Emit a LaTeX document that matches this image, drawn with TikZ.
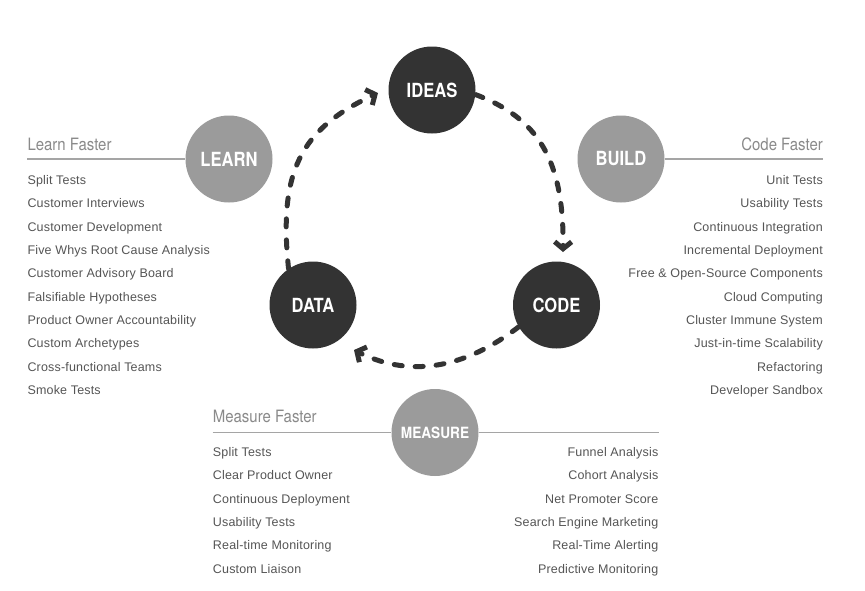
\documentclass[tikz,border=0pt]{standalone}
\usepackage{fontspec}
\setmainfont{Liberation Sans}
\newfontfamily\itemfont[LetterSpace=1.5]{Liberation Sans}
\newfontfamily\headfont[FakeStretch=0.88]{TeX Gyre Heros}
\newfontfamily\circfont[FakeStretch=0.85]{TeX Gyre Heros}
\newfontfamily\circfontm[FakeStretch=0.88]{TeX Gyre Heros}
\usetikzlibrary{arrows.meta}
\definecolor{darkc}{HTML}{333333}
\definecolor{lightc}{HTML}{9B9B9B}
\definecolor{itemc}{HTML}{555555}
\definecolor{headc}{HTML}{8A8A8A}
\definecolor{rulec}{HTML}{A5A5A5}
\tikzset{
  darkball/.style={circle, fill=darkc, minimum size=87pt, inner sep=0pt, text=white,
    font=\circfont\bfseries\fontsize{19.5}{20}\selectfont},
  lightball/.style={circle, fill=lightc, minimum size=87pt, inner sep=0pt, text=white,
    font=\circfont\bfseries\fontsize{19.5}{20}\selectfont},
  flow/.style={draw=darkc, line width=5pt, line cap=round, dash pattern=on 8pt off 13pt,
    -{Straight Barb[length=7pt,width=17pt,line width=5pt]}},
  rulel/.style={draw=rulec, line width=1.8pt},
  itemtxt/.style={inner sep=0pt, text=itemc, font=\itemfont\fontsize{12.5}{14}\selectfont},
  headtxt/.style={inner sep=0pt, text=headc, font=\headfont\fontsize{17}{18}\selectfont},
}
\begin{document}
\begin{tikzpicture}[x=1pt,y=-1pt]
\useasboundingbox (0,0) rectangle (865,590);
\fill[white] (0,0) rectangle (865,590);

% circles
\node[darkball] (ideas) at (432,90) {IDEAS};
\node[darkball] (data) at (313,305) {DATA};
\node[darkball] (code) at (556.5,305) {CODE};
\node[lightball] (learn) at (229,159) {LEARN};
\node[lightball] (build) at (621,159) {BUILD};
\node[lightball, font=\circfontm\bfseries\fontsize{15.5}{16}\selectfont] (measure) at (435,432.5) {MEASURE};

% cycle arrows
\coordinate (tipI) at (378,93);
\coordinate (tipC) at (563,252);
\coordinate (tipD) at (354,350);
\draw[flow] (data.124) .. controls (278.5,173) and (299.5,129.5) .. (tipI);
\draw[flow] (ideas.-6) .. controls (538,118) and (564,160) .. (tipC);
\draw[flow] (code.210) .. controls (468,366) and (413,379.5) .. (tipD);

% headers and rules
\node[headtxt, anchor=base west] (lhead) at (27.3,150) {Learn Faster};
\node[headtxt, anchor=base east] (chead) at (823,150) {Code Faster};
\node[headtxt, anchor=base west] (mhead) at (212.7,422) {Measure Faster};
\coordinate (lstart) at (27.3,159);
\coordinate (cend) at (823,159);
\coordinate (mstart) at (212.7,432.5);
\coordinate (mend) at (658.5,432.5);
\draw[rulel] (lstart) -- (learn);
\draw[rulel] (build) -- (cend);
\draw[rulel] (mstart) -- (measure);
\draw[rulel] (measure) -- (mend);

% lists
\foreach \t [count=\i from 0] in {Split Tests, Customer Interviews, Customer Development,
  Five Whys Root Cause Analysis, Customer Advisory Board, Falsifiable Hypotheses,
  Product Owner Accountability, Custom Archetypes, Cross-functional Teams, Smoke Tests}
  \node[itemtxt, anchor=base west] (litem\i) at (27.3,184.5+23.33*\i) {\t};
\foreach \t [count=\i from 0] in {Unit Tests, Usability Tests, Continuous Integration,
  Incremental Deployment, Free \& Open-Source Components, Cloud Computing,
  Cluster Immune System, Just-in-time Scalability, Refactoring, Developer Sandbox}
  \node[itemtxt, anchor=base east] (citem\i) at (823,184.5+23.33*\i) {\t};
\foreach \t [count=\i from 0] in {Split Tests, Clear Product Owner, Continuous Deployment,
  Usability Tests, Real-time Monitoring, Custom Liaison}
  \node[itemtxt, anchor=base west] (mitem\i) at (212.7,456.5+23.3*\i) {\t};
\foreach \t [count=\i from 0] in {Funnel Analysis, Cohort Analysis, Net Promoter Score,
  Search Engine Marketing, Real-Time Alerting, Predictive Monitoring}
  \node[itemtxt, anchor=base east] (nitem\i) at (658.5,456.5+23.3*\i) {\t};
\end{tikzpicture}
\end{document}
